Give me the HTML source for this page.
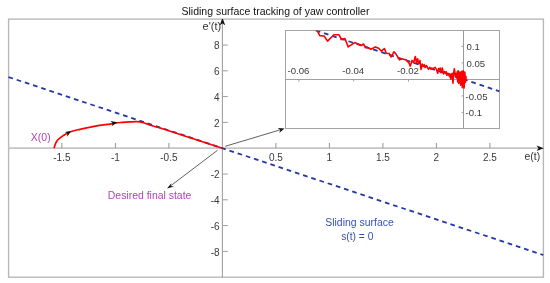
<!DOCTYPE html><html><head><meta charset="utf-8"><style>html,body{margin:0;padding:0;background:#fff;}svg{display:block;}text{font-family:"Liberation Sans",Arial,sans-serif;}</style></head><body>
<svg width="550" height="283" viewBox="0 0 550 283">
<rect x="0" y="0" width="550" height="283" fill="#fff"/>
<rect x="8.6" y="19.1" width="534.8" height="258.1" fill="none" stroke="#b8b8b8" stroke-width="1.4"/>
<line x1="8.4" y1="148.2" x2="538" y2="148.2" stroke="#c4c4c4" stroke-width="1.8"/>
<line x1="222.4" y1="24" x2="222.4" y2="277.3" stroke="#a0a0a0" stroke-width="1.1"/>
<path d="M543.8,148.2 L536.6,145.5 L538.4,148.2 L536.6,150.9 Z" fill="#111"/>
<path d="M222.0,19.0 L222.9,19.0 L225.2,25.2 L222.5,23.6 L219.8,25.2 Z" fill="#111"/>
<g font-size="10" fill="#3a3a3a"><line x1="61.9" y1="143" x2="61.9" y2="148" stroke="#959595" stroke-width="1"/><text x="61.9" y="161" text-anchor="middle">-1.5</text><line x1="115.4" y1="143" x2="115.4" y2="148" stroke="#959595" stroke-width="1"/><text x="115.4" y="161" text-anchor="middle">-1</text><line x1="168.9" y1="143" x2="168.9" y2="148" stroke="#959595" stroke-width="1"/><text x="168.9" y="161" text-anchor="middle">-0.5</text><line x1="275.9" y1="143" x2="275.9" y2="148" stroke="#959595" stroke-width="1"/><text x="275.9" y="161" text-anchor="middle">0.5</text><line x1="329.4" y1="143" x2="329.4" y2="148" stroke="#959595" stroke-width="1"/><text x="329.4" y="161" text-anchor="middle">1</text><line x1="382.9" y1="143" x2="382.9" y2="148" stroke="#959595" stroke-width="1"/><text x="382.9" y="161" text-anchor="middle">1.5</text><line x1="436.4" y1="143" x2="436.4" y2="148" stroke="#959595" stroke-width="1"/><text x="436.4" y="161" text-anchor="middle">2</text><line x1="489.9" y1="143" x2="489.9" y2="148" stroke="#959595" stroke-width="1"/><text x="489.9" y="161" text-anchor="middle">2.5</text><line x1="222.4" y1="45.0" x2="227.8" y2="45.0" stroke="#9c9c9c" stroke-width="1"/><text x="219.6" y="49.2" text-anchor="end">8</text><line x1="222.4" y1="70.8" x2="227.8" y2="70.8" stroke="#9c9c9c" stroke-width="1"/><text x="219.6" y="75.0" text-anchor="end">6</text><line x1="222.4" y1="96.6" x2="227.8" y2="96.6" stroke="#9c9c9c" stroke-width="1"/><text x="219.6" y="100.8" text-anchor="end">4</text><line x1="222.4" y1="122.4" x2="227.8" y2="122.4" stroke="#9c9c9c" stroke-width="1"/><text x="219.6" y="126.6" text-anchor="end">2</text><line x1="222.4" y1="174.0" x2="227.8" y2="174.0" stroke="#9c9c9c" stroke-width="1"/><text x="219.6" y="178.2" text-anchor="end">-2</text><line x1="222.4" y1="199.8" x2="227.8" y2="199.8" stroke="#9c9c9c" stroke-width="1"/><text x="219.6" y="204.0" text-anchor="end">-4</text><line x1="222.4" y1="225.6" x2="227.8" y2="225.6" stroke="#9c9c9c" stroke-width="1"/><text x="219.6" y="229.8" text-anchor="end">-6</text><line x1="222.4" y1="251.4" x2="227.8" y2="251.4" stroke="#9c9c9c" stroke-width="1"/><text x="219.6" y="255.6" text-anchor="end">-8</text></g>
<text x="181.5" y="15.1" font-size="10.5" fill="#111">Sliding surface tracking of yaw controller</text>
<text x="202.6" y="29.7" font-size="10.5" fill="#333" textLength="18.6" lengthAdjust="spacingAndGlyphs">e'(t)</text>
<text x="524.4" y="159.8" font-size="10.5" fill="#333">e(t)</text>
<line x1="8.2" y1="76.93" x2="543.3" y2="255" stroke="#2238a4" stroke-width="1.8" stroke-dasharray="4.7,3.925" stroke-dashoffset="-0.3"/>
<path d="M54.1,148.2 C54.3,147.4 55.0,145.0 55.5,143.7 C56.0,142.4 56.5,141.5 57.3,140.5 C58.1,139.5 59.0,138.7 60.1,137.8 C61.2,136.9 62.4,136.0 63.8,135.2 C65.2,134.4 66.8,133.5 68.3,132.8 C69.8,132.1 71.0,131.6 72.9,131.0 C74.9,130.4 77.9,129.8 80.0,129.3 C82.1,128.8 82.6,128.7 85.4,128.1 C88.2,127.5 93.4,126.5 96.7,125.9 C100.0,125.3 102.8,125.0 105.0,124.7 C107.2,124.4 108.2,124.4 110.0,124.1 C111.8,123.8 114.0,123.3 116.0,123.0 C118.0,122.7 119.7,122.6 122.0,122.4 C124.3,122.2 127.5,122.0 130.0,121.9 C132.5,121.8 135.0,121.6 137.0,121.7 C139.0,121.8 140.5,121.9 142.2,122.3 C143.9,122.7 145.3,123.4 147.1,124.0 C148.9,124.6 150.9,125.4 153.0,126.0 C155.1,126.6 158.4,127.5 159.5,127.8 L222.4,148.2" fill="none" stroke="#f00" stroke-width="1.7" stroke-linejoin="round"/>
<path d="M71.0,131.1 L64.9,132.1 L67.3,133.3 L67.3,136.8 Z" fill="#111"/>
<path d="M117.3,122.3 L110.5,120.9 L112.5,123.0 L112.1,126.1 Z" fill="#111"/>
<line x1="217.5" y1="150.3" x2="169.5" y2="186.7" stroke="#444" stroke-width="0.85"/>
<path d="M167.0,188.6 L171.3,183.2 L170.6,186.0 L174.0,186.6 Z" fill="#111"/>
<text x="107.8" y="199.2" font-size="10.45" fill="#b044b4">Desired final state</text>
<text x="30.8" y="140.8" font-size="10.5" fill="#b044b4">X(0)</text>
<text x="359.5" y="225.5" font-size="10.45" fill="#3652b0" text-anchor="middle">Sliding surface</text>
<text x="357.3" y="239.6" font-size="10.3" fill="#3652b0" text-anchor="middle">s(t) = 0</text>
<line x1="225.2" y1="146.3" x2="281" y2="129.6" stroke="#444" stroke-width="0.85"/>
<path d="M284.5,128.5 L277.7,128.1 L280.4,129.9 L279.2,133.0 Z" fill="#111"/>
<rect x="285.5" y="30.5" width="214" height="98" fill="#fff" stroke="#a4a4a4" stroke-width="1"/>
<line x1="285.5" y1="79.5" x2="499.5" y2="79.5" stroke="#a0a0a0" stroke-width="1"/>
<line x1="463.5" y1="30.5" x2="463.5" y2="128.5" stroke="#9a9a9a" stroke-width="1"/>
<g font-size="9.6" fill="#3a3a3a"><line x1="298.9" y1="79.4" x2="298.9" y2="81.6" stroke="#a0a0a0" stroke-width="1"/><text x="298.4" y="74.0" text-anchor="middle">-0.06</text><line x1="353.7" y1="79.4" x2="353.7" y2="81.6" stroke="#a0a0a0" stroke-width="1"/><text x="353.2" y="74.0" text-anchor="middle">-0.04</text><line x1="408.5" y1="79.4" x2="408.5" y2="81.6" stroke="#a0a0a0" stroke-width="1"/><text x="408.0" y="74.0" text-anchor="middle">-0.02</text><line x1="461.5" y1="46.4" x2="463.5" y2="46.4" stroke="#a0a0a0" stroke-width="1"/><text x="466.4" y="50.2">0.1</text><line x1="461.5" y1="62.9" x2="463.5" y2="62.9" stroke="#a0a0a0" stroke-width="1"/><text x="466.4" y="66.7">0.05</text><line x1="461.5" y1="95.9" x2="463.5" y2="95.9" stroke="#a0a0a0" stroke-width="1"/><text x="465.6" y="99.7">-0.05</text><line x1="461.5" y1="112.4" x2="463.5" y2="112.4" stroke="#a0a0a0" stroke-width="1"/><text x="465.6" y="116.2">-0.1</text></g>
<clipPath id="ic"><rect x="286" y="30.5" width="213.5" height="98"/></clipPath>
<g clip-path="url(#ic)">
<line x1="315.5" y1="30.3" x2="499.5" y2="91.3" stroke="#2238a4" stroke-width="1.8" stroke-dasharray="4.7,3.925" stroke-dashoffset="-0.3"/>
<path d="M317.1,30.4 L319.8,35.6 L324.2,36.0 L327.5,41.1 L334.0,34.7 L338.9,34.7 L341.6,39.6 L344.9,38.5 L348.2,46.9 L354.7,42.6 L361.3,45.6 L363.5,44.0 L365.6,47.8 L367.2,47.5 L371.0,49.3 L375.4,46.9 L378.6,48.2 L381.4,51.1 L384.4,48.5 L386.3,53.2 L389.0,53.5 L391.2,57.0 L393.9,51.8 L395.5,53.3 L399.5,59.9 L401.8,58.7 L406.3,59.9 L409.1,63.3 L410.3,66.1 L412.0,60.4 L413.6,62.7 L415.3,56.5 L416.5,62.7 L417.6,58.7 L418.7,63.8 L419.9,60.4 L421.0,69.5 L422.2,64.0 L423.3,66.5 L424.2,64.5 L425.2,67.4 L426.2,65.5 L427.2,66.8 L428.5,69.4 L429.8,67.4 L430.8,69.0 L431.8,68.1 L432.8,69.2 L433.7,68.1 L435.1,67.4 L436.4,69.4 L437.7,73.3 L438.6,68.5 L439.6,70.0 L440.2,68.1 L440.9,72.7 L442.3,68.1 L443.6,74.0 L444.5,71.5 L445.5,73.3 L446.2,71.8 L446.8,75.3 L447.5,73.2 L448.1,74.6 L448.8,73.5 L449.5,76.6 L450.1,74.0 L450.8,79.2 L451.5,74.5 L452.1,73.3 L453.0,83.1 L453.6,74.0 L454.3,68.7 L455.3,75.9 L455.9,73.5 L456.6,77.9 L457.3,71.8 L457.7,82.0 L458.2,70.9 L458.8,83.4 L459.9,72.0 L460.6,85.3 L461.6,71.4 L462.3,87.6 L463.2,70.7 L464.1,88.0 L464.8,72.0 L465.4,82.5 L465.9,76.5 L466.1,80.0" fill="none" stroke="#f00" stroke-width="1.6" stroke-linejoin="round"/>
</g>
</svg></body></html>
